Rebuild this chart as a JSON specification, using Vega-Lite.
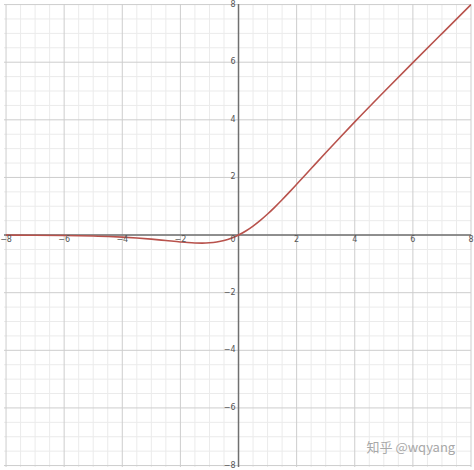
{
  "$schema": "https://vega.github.io/schema/vega-lite/v6.json",
  "width": 474,
  "height": 470,
  "autosize": {"type": "fit", "contains": "padding"},
  "padding": 0,
  "background": "white",
  "config": {"view": {"stroke": null}},
  "datasets": {
    "curve": [
      {"x": -8, "y": -0.0027}, {"x": -7, "y": -0.0064}, {"x": -6, "y": -0.0148},
      {"x": -5, "y": -0.0335}, {"x": -4.5, "y": -0.0495}, {"x": -4, "y": -0.0719},
      {"x": -3.5, "y": -0.1026}, {"x": -3, "y": -0.1423}, {"x": -2.5, "y": -0.1896},
      {"x": -2, "y": -0.2384}, {"x": -1.75, "y": -0.2591}, {"x": -1.5, "y": -0.2736},
      {"x": -1.25, "y": -0.2784}, {"x": -1, "y": -0.2689}, {"x": -0.75, "y": -0.2406},
      {"x": -0.5, "y": -0.1888}, {"x": -0.25, "y": -0.1094}, {"x": 0, "y": 0},
      {"x": 0.25, "y": 0.1406}, {"x": 0.5, "y": 0.3112}, {"x": 0.75, "y": 0.5094},
      {"x": 1, "y": 0.7311}, {"x": 1.25, "y": 0.9716}, {"x": 1.5, "y": 1.2264},
      {"x": 1.75, "y": 1.491}, {"x": 2, "y": 1.7616}, {"x": 2.5, "y": 2.3103},
      {"x": 3, "y": 2.8577}, {"x": 3.5, "y": 3.3974}, {"x": 4, "y": 3.9281},
      {"x": 5, "y": 4.9665}, {"x": 6, "y": 5.9852}, {"x": 7, "y": 6.9936},
      {"x": 8, "y": 7.9973}
    ],
    "grid": [
      {"v": -8}, {"v": -7.5}, {"v": -7}, {"v": -6.5}, {"v": -6}, {"v": -5.5}, {"v": -5}, {"v": -4.5},
      {"v": -4}, {"v": -3.5}, {"v": -3}, {"v": -2.5}, {"v": -2}, {"v": -1.5}, {"v": -1}, {"v": -0.5},
      {"v": 0}, {"v": 0.5}, {"v": 1}, {"v": 1.5}, {"v": 2}, {"v": 2.5}, {"v": 3}, {"v": 3.5},
      {"v": 4}, {"v": 4.5}, {"v": 5}, {"v": 5.5}, {"v": 6}, {"v": 6.5}, {"v": 7}, {"v": 7.5}, {"v": 8}
    ],
    "ticks": [
      {"v": -8}, {"v": -6}, {"v": -4}, {"v": -2},
      {"v": 2}, {"v": 4}, {"v": 6}, {"v": 8}
    ]
  },
  "layer": [
    {
      "data": {"name": "grid"},
      "transform": [{"filter": "datum.v % 2 !== 0"}],
      "mark": {"type": "rule", "color": "#ebebeb", "strokeWidth": 1},
      "encoding": {
        "x": {
          "field": "v", "type": "quantitative",
          "scale": {"domain": [-8.07, 8.0], "nice": false, "zero": false},
          "axis": null
        }
      }
    },
    {
      "data": {"name": "grid"},
      "transform": [{"filter": "datum.v % 2 !== 0"}],
      "mark": {"type": "rule", "color": "#ebebeb", "strokeWidth": 1},
      "encoding": {
        "y": {
          "field": "v", "type": "quantitative",
          "scale": {"domain": [-8.05, 8.02], "nice": false, "zero": false},
          "axis": null
        }
      }
    },
    {
      "data": {"name": "grid"},
      "transform": [{"filter": "datum.v % 2 === 0"}],
      "mark": {"type": "rule", "color": "#cdcdcd", "strokeWidth": 1},
      "encoding": {"x": {"field": "v", "type": "quantitative"}}
    },
    {
      "data": {"name": "grid"},
      "transform": [{"filter": "datum.v % 2 === 0"}],
      "mark": {"type": "rule", "color": "#cdcdcd", "strokeWidth": 1},
      "encoding": {"y": {"field": "v", "type": "quantitative"}}
    },
    {
      "data": {"values": [{}]},
      "mark": {"type": "rule", "color": "#707070", "strokeWidth": 1.5},
      "encoding": {"x": {"datum": 0}}
    },
    {
      "data": {"values": [{}]},
      "mark": {"type": "rule", "color": "#707070", "strokeWidth": 1.5},
      "encoding": {"y": {"datum": 0}}
    },
    {
      "data": {"name": "curve"},
      "mark": {"type": "line", "color": "#b8524c", "strokeWidth": 1.6, "interpolate": "monotone", "clip": true},
      "encoding": {
        "x": {"field": "x", "type": "quantitative"},
        "y": {"field": "y", "type": "quantitative"}
      }
    },
    {
      "data": {"name": "ticks"},
      "mark": {"type": "text", "fontSize": 8, "color": "#555", "font": "DejaVu Sans", "baseline": "middle", "align": "center", "dy": 5},
      "encoding": {
        "x": {"field": "v", "type": "quantitative"},
        "y": {"datum": 0},
        "text": {"field": "v", "type": "quantitative"}
      }
    },
    {
      "data": {"name": "ticks"},
      "mark": {"type": "text", "fontSize": 8, "color": "#555", "font": "DejaVu Sans", "baseline": "middle", "align": "right", "dx": -3},
      "encoding": {
        "x": {"datum": 0},
        "y": {"field": "v", "type": "quantitative"},
        "text": {"field": "v", "type": "quantitative"}
      }
    },
    {
      "data": {"values": [{"label": "0"}]},
      "mark": {"type": "text", "fontSize": 8, "color": "#555", "font": "DejaVu Sans", "baseline": "middle", "align": "right", "dx": -3, "dy": 5},
      "encoding": {
        "x": {"datum": 0},
        "y": {"datum": 0},
        "text": {"field": "label"}
      }
    },
    {
      "data": {"values": [{"label": "知乎 @wqyang"}]},
      "mark": {"type": "text", "fontSize": 13, "color": "#a8a8a8", "font": "Noto Sans CJK SC", "baseline": "middle", "align": "center"},
      "encoding": {
        "x": {"datum": 5.93},
        "y": {"datum": -7.4},
        "text": {"field": "label"}
      }
    }
  ]
}
